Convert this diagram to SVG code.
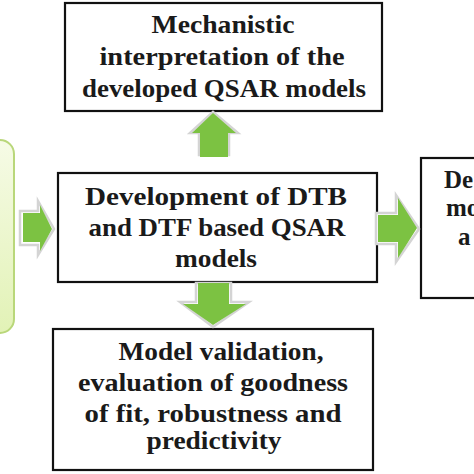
<svg xmlns="http://www.w3.org/2000/svg" width="474" height="474" viewBox="0 0 474 474" xml:space="preserve">
<defs>
<style>
.box{fill:#fff;stroke:#111;stroke-width:2.2}
text{font-family:'Liberation Serif',serif;font-weight:700;font-size:25px;fill:#1a1a1a}
.t{text-anchor:middle}
.arr{fill:#7cc242}
.glow{fill:#fff;stroke:#d4d4d4;stroke-width:2.5;stroke-linejoin:miter}
</style>
<linearGradient id="gg" x1="0" y1="0" x2="0" y2="1">
<stop offset="0" stop-color="#f6fbe6"/>
<stop offset="1" stop-color="#e2f2b6"/>
</linearGradient>
</defs>
<rect width="474" height="474" fill="#fff"/>
<g id="start">
<rect x="-30" y="140" width="44" height="193" rx="14" fill="url(#gg)" stroke="#b9d77a" stroke-width="2"/>
</g>
<g id="mechanistic">
<rect class="box" x="65" y="3" width="317" height="108"/>
<text class="t" x="223" y="33" textLength="143" lengthAdjust="spacingAndGlyphs">Mechanistic</text>
<text class="t" x="222" y="65" textLength="245" lengthAdjust="spacingAndGlyphs">interpretation of  the</text>
<text class="t" x="224" y="97" textLength="284" lengthAdjust="spacingAndGlyphs">developed QSAR models</text>
</g>
<g id="development">
<rect class="box" x="58" y="173" width="319" height="109"/>
<text class="t" x="216" y="205" textLength="262" lengthAdjust="spacingAndGlyphs">Development of   DTB</text>
<text class="t" x="217" y="236" textLength="257" lengthAdjust="spacingAndGlyphs">and DTF based QSAR</text>
<text class="t" x="216" y="267" textLength="82" lengthAdjust="spacingAndGlyphs">models</text>
</g>
<g id="validation">
<rect class="box" x="53" y="329" width="320" height="141"/>
<text class="t" x="221" y="360" textLength="205" lengthAdjust="spacingAndGlyphs">Model validation,</text>
<text class="t" x="213" y="391" textLength="270" lengthAdjust="spacingAndGlyphs">evaluation of  goodness</text>
<text class="t" x="213" y="422" textLength="257" lengthAdjust="spacingAndGlyphs">of  fit, robustness  and</text>
<text class="t" x="214" y="449" textLength="135" lengthAdjust="spacingAndGlyphs">predictivity</text>
</g>
<g id="design">
<rect class="box" x="421" y="158" width="70" height="140"/>
<text x="444" y="188">De</text>
<text x="446" y="216">mo</text>
<text x="458" y="245">a</text>
</g>
<g id="connectors">
<polygon class="glow" points="199,155 199,133 190,133 213,112 238,133 229,133 229,155"/>
<polygon class="arr" points="200,157 200,133 192,133 213,113 236,133 228,133 228,157"/>
<polygon class="glow" points="20,211 38,211 38,201 54,229 38,255 38,245 20,245"/>
<polygon class="arr" points="23,213 40,213 40,205 52,229 40,251 40,242 23,242"/>
<polygon class="glow" points="376,213 396,213 396,195 419,229 396,262 396,244 376,244"/>
<polygon class="arr" points="378,215 398,215 398,198 417,228 398,258 398,242 378,242"/>
<polygon class="glow" points="196,283 196,302 180,302 213,327 249,302 231,302 231,283"/>
<polygon class="arr" points="198,283 198,304 183,304 213,325 246,304 229,304 229,283"/>
</g>
</svg>
